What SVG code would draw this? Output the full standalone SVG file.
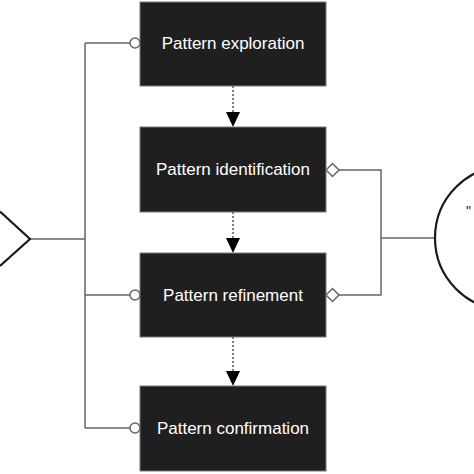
<svg xmlns="http://www.w3.org/2000/svg" width="474" height="474" viewBox="0 0 474 474">
<style>
.box{fill:#1f1f1f;stroke:#7a7a7a;stroke-width:1}
.lbl{fill:#ffffff;font-family:"Liberation Sans",Arial,sans-serif;font-size:17px;text-anchor:middle}
.ln{fill:none;stroke:#666;stroke-width:1.5}
.dot{fill:none;stroke:#555;stroke-width:1.5;stroke-dasharray:2 2}
.circ{fill:#fff;stroke:#666;stroke-width:1.5}
.dia{fill:#fff;stroke:#666;stroke-width:1.5}
.shape{fill:none;stroke:#1a1a1a;stroke-width:2.2}
</style>
<g id="connectors">
<path class="ln" d="M30,239 H85 M85,43 V428 M85,43 H130 M85,295 H130 M85,428 H130"/>
<path class="ln" d="M339,170 H381 V295 H339 M381,238 H435"/>
<path class="dot" d="M233,86 V112"/>
<path d="M226,112 L240,112 L233,127 Z" fill="#000"/>
<path class="dot" d="M233,212 V238"/>
<path d="M226,238 L240,238 L233,253 Z" fill="#000"/>
<path class="dot" d="M233,337 V371"/>
<path d="M226,371 L240,371 L233,386 Z" fill="#000"/>
<circle class="circ" cx="135" cy="43" r="5"/>
<circle class="circ" cx="135" cy="295" r="5"/>
<circle class="circ" cx="135" cy="428" r="5"/>
<path class="dia" d="M326,170 L332.5,163.5 L339,170 L332.5,176.5 Z"/>
<path class="dia" d="M326,295 L332.5,288.5 L339,295 L332.5,301.5 Z"/>
</g>
<g id="node-exploration">
<rect class="box" x="140" y="2" width="186" height="84"/>
<text class="lbl" x="233" y="49">Pattern exploration</text>
</g>
<g id="node-identification">
<rect class="box" x="140" y="127" width="186" height="85"/>
<text class="lbl" x="233" y="175">Pattern identification</text>
</g>
<g id="node-refinement">
<rect class="box" x="140" y="253" width="186" height="84"/>
<text class="lbl" x="233" y="301">Pattern refinement</text>
</g>
<g id="node-confirmation">
<rect class="box" x="140" y="386" width="186" height="85"/>
<text class="lbl" x="233" y="434">Pattern confirmation</text>
</g>
<g id="node-left">
<path class="shape" d="M0,211.5 L30,239 L0,266"/>
</g>
<g id="node-right">
<circle class="shape" cx="507" cy="238" r="72"/>
<text x="466" y="216" font-family="Liberation Sans,Arial,sans-serif" font-size="14" fill="#222">"</text>
</g>
</svg>
